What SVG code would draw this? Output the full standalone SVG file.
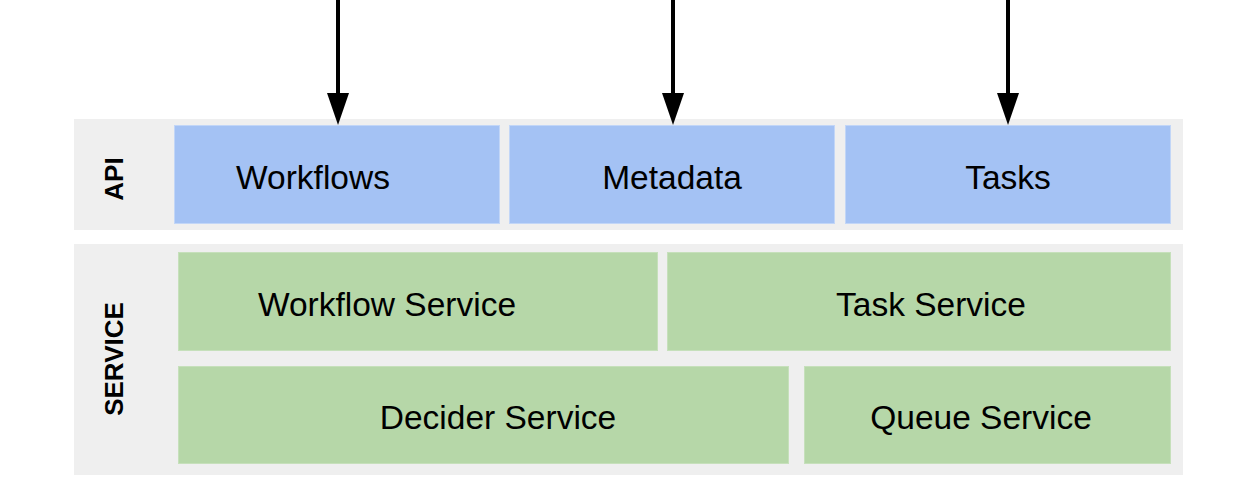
<svg xmlns="http://www.w3.org/2000/svg" width="1252" height="480" viewBox="0 0 1252 480">
<style>
.band{fill:#efefef}
.api{fill:#a4c2f4;stroke:#c2d6f7;stroke-width:1}
.svc{fill:#b6d7a8;stroke:#c6e0bb;stroke-width:1}
.lbl{font-family:"Liberation Sans",Arial,sans-serif;font-size:33.5px;fill:#000;text-anchor:middle}
.vl{font-family:"Liberation Sans",Arial,sans-serif;font-size:26px;font-weight:bold;fill:#000;text-anchor:middle}
.conn{stroke:#000;stroke-width:4;fill:none}
.head{fill:#000}
</style>
<rect fill="#ffffff" x="0" y="0" width="1252" height="480"/>
<g id="api-layer">
<rect class="band" x="74" y="119" width="1109" height="111"/>
<text class="vl" transform="translate(123,179) rotate(-90)">API</text>
</g>
<g id="service-layer">
<rect class="band" x="74" y="244" width="1109" height="231"/>
<text class="vl" transform="translate(123,359) rotate(-90)">SERVICE</text>
</g>
<g id="workflows">
<rect class="api" x="174.5" y="125.5" width="325" height="98"/>
<text class="lbl" x="313" y="189">Workflows</text>
</g>
<g id="metadata">
<rect class="api" x="509.5" y="125.5" width="325" height="98"/>
<text class="lbl" x="672" y="189">Metadata</text>
</g>
<g id="tasks">
<rect class="api" x="845.5" y="125.5" width="325" height="98"/>
<text class="lbl" x="1008" y="189">Tasks</text>
</g>
<g id="workflow-service">
<rect class="svc" x="178.5" y="252.5" width="479" height="98"/>
<text class="lbl" x="387" y="316">Workflow Service</text>
</g>
<g id="task-service">
<rect class="svc" x="667.5" y="252.5" width="503" height="98"/>
<text class="lbl" x="931" y="316">Task Service</text>
</g>
<g id="decider-service">
<rect class="svc" x="178.5" y="366.5" width="610" height="97"/>
<text class="lbl" x="498" y="429">Decider Service</text>
</g>
<g id="queue-service">
<rect class="svc" x="804.5" y="366.5" width="366" height="97"/>
<text class="lbl" x="981" y="429">Queue Service</text>
</g>
<g id="connectors">
<line class="conn" x1="338" y1="0" x2="338" y2="100"/>
<path class="head" d="M327,93 L349,93 L338,125 Z"/>
<line class="conn" x1="673" y1="0" x2="673" y2="100"/>
<path class="head" d="M662,93 L684,93 L673,125 Z"/>
<line class="conn" x1="1008" y1="0" x2="1008" y2="100"/>
<path class="head" d="M997,93 L1019,93 L1008,125 Z"/>
</g>
</svg>
